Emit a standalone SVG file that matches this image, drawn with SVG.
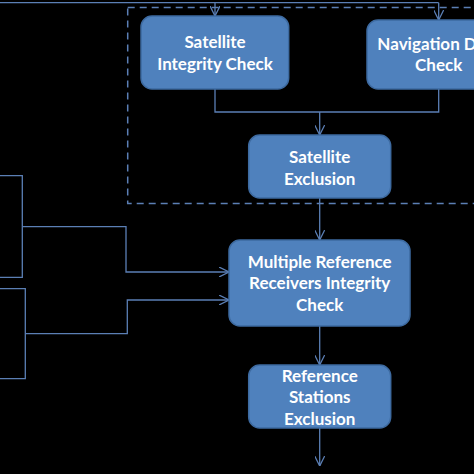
<svg xmlns="http://www.w3.org/2000/svg" width="474" height="474" viewBox="0 0 474 474">
<defs>
<marker id="arr" viewBox="0 0 10 10" refX="10" refY="5" markerWidth="10" markerHeight="10" markerUnits="userSpaceOnUse" orient="auto">
<path d="M0,0 L10,5 L0,10" fill="none" stroke="#5b7fb5" stroke-width="1.3"/>
</marker>
<style>
.box{fill:#4f81bd;stroke:#3d6aa0;stroke-width:1.5}
.t{fill:#ffffff;font-family:Lato,"Liberation Sans",sans-serif;font-weight:bold;font-size:17px;text-anchor:middle}
.c{fill:none;stroke:#5b7fb5;stroke-width:1.3}
.dash{fill:none;stroke:#5b7fb5;stroke-width:1.5;stroke-dasharray:7,5}
</style>
</defs>
<rect width="474" height="474" fill="#000000"/>
<rect id="group-box" class="dash" x="127.7" y="7.5" width="360" height="196"/>
<g id="connectors">
<path class="c" d="M0,2.7 H438.7"/>
<path class="c" d="M215,2.7 V16" marker-end="url(#arr)"/>
<path class="c" d="M438.7,2.7 V20" marker-end="url(#arr)"/>
<path class="c" d="M215,89 V112 H438.7 V89"/>
<path class="c" d="M319.7,112 V135" marker-end="url(#arr)"/>
<path class="c" d="M319.7,198 V240" marker-end="url(#arr)"/>
<path class="c" d="M319.7,326 V365" marker-end="url(#arr)"/>
<path class="c" d="M319.7,428 V466" marker-end="url(#arr)"/>
<path class="c" d="M0,175.7 H22.3 V277.3 H0"/>
<path class="c" d="M22.3,226.7 H126 V272 H229" marker-end="url(#arr)"/>
<path class="c" d="M0,288.7 H25.3 V378.7 H0"/>
<path class="c" d="M25.3,333.7 H127.3 V300 H229" marker-end="url(#arr)"/>
</g>
<g id="satellite-integrity-check">
<rect class="box" x="141" y="16" width="147.7" height="73" rx="11"/>
<text class="t" x="215" y="48">Satellite</text>
<text class="t" x="215" y="69.5">Integrity Check</text>
</g>
<g id="navigation-data-check">
<rect class="box" x="367" y="20" width="140" height="69" rx="11"/>
<text class="t" x="438.7" y="50">Navigation Data</text>
<text class="t" x="438.7" y="71">Check</text>
</g>
<g id="satellite-exclusion">
<rect class="box" x="248.7" y="135" width="142" height="63" rx="11"/>
<text class="t" x="319.7" y="163">Satellite</text>
<text class="t" x="319.7" y="184.5">Exclusion</text>
</g>
<g id="mrric">
<rect class="box" x="229" y="240" width="181" height="86" rx="11"/>
<text class="t" x="319.7" y="267.5">Multiple Reference</text>
<text class="t" x="319.7" y="289">Receivers Integrity</text>
<text class="t" x="319.7" y="310.5">Check</text>
</g>
<g id="reference-stations-exclusion">
<rect class="box" x="248.7" y="365" width="142" height="63" rx="11"/>
<text class="t" x="319.7" y="381.5">Reference</text>
<text class="t" x="319.7" y="403">Stations</text>
<text class="t" x="319.7" y="424.5">Exclusion</text>
</g>
</svg>
